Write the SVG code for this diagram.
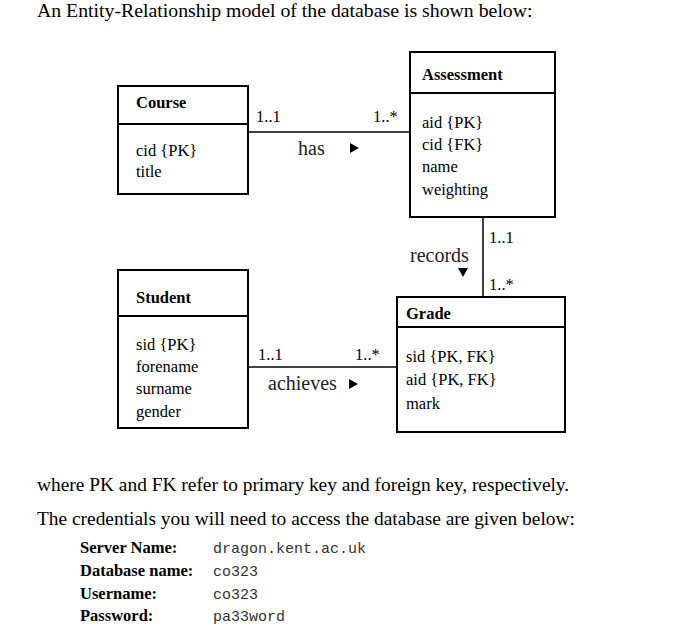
<svg xmlns="http://www.w3.org/2000/svg" width="700" height="627" viewBox="0 0 700 627">
<style>
.t{font-family:"Liberation Serif",serif;font-size:19.4px;fill:#000}
.a{font-family:"Liberation Serif",serif;font-size:16.5px;fill:#000}
.b{font-family:"Liberation Serif",serif;font-size:16.5px;font-weight:bold;fill:#000}
.m{font-family:"Liberation Mono",monospace;font-size:15px;fill:#333}
.l{font-family:"Liberation Serif",serif;font-size:20px;fill:#222}
.box{fill:#fff;stroke:#000;stroke-width:2}
</style>
<rect width="700" height="627" fill="#fff"/>
<text class="t" x="37" y="17" style="font-size:19.8px">An Entity-Relationship model of the database is shown below:</text>
<g id="connectors" stroke="#000" stroke-width="1.5">
<line x1="248" y1="132" x2="410" y2="132"/>
<line x1="483" y1="217" x2="483" y2="297"/>
<line x1="248" y1="367" x2="397" y2="367"/>
</g>
<g id="labels">
<text class="a" x="256" y="122">1..1</text><text class="a" x="373" y="122">1..*</text>
<text class="l" x="298" y="155">has</text><polygon points="350,143 359,148 350,153"/>
<text class="a" x="489" y="243">1..1</text><text class="l" x="410" y="262">records</text>
<polygon points="458,268 468,268 463,277"/><text class="a" x="489" y="290">1..*</text>
<text class="a" x="258" y="360">1..1</text><text class="a" x="355" y="360">1..*</text>
<text class="l" x="268" y="390">achieves</text><polygon points="349,379 358,384 349,389"/>
</g>
<g id="course">
<rect class="box" x="118" y="86" width="130" height="108"/><line x1="118" y1="124" x2="248" y2="124" stroke="#000" stroke-width="2"/>
<text class="b" x="136" y="108">Course</text><text class="a" x="136" y="156">cid {PK}</text><text class="a" x="136" y="177">title</text>
</g>
<g id="assessment">
<rect class="box" x="410" y="52" width="145" height="165"/><line x1="410" y1="93" x2="555" y2="93" stroke="#000" stroke-width="2"/>
<text class="b" x="422" y="80">Assessment</text>
<text class="a" x="422" y="128">aid {PK}</text><text class="a" x="422" y="150">cid {FK}</text><text class="a" x="422" y="172">name</text><text class="a" x="422" y="195">weighting</text>
</g>
<g id="student">
<rect class="box" x="118" y="270" width="130" height="158"/><line x1="118" y1="316" x2="248" y2="316" stroke="#000" stroke-width="2"/>
<text class="b" x="136" y="303">Student</text>
<text class="a" x="136" y="350">sid {PK}</text><text class="a" x="136" y="372">forename</text><text class="a" x="136" y="394">surname</text><text class="a" x="136" y="417">gender</text>
</g>
<g id="grade">
<rect class="box" x="397" y="297" width="168" height="135"/><line x1="397" y1="327" x2="565" y2="327" stroke="#000" stroke-width="2"/>
<text class="b" x="406" y="319">Grade</text>
<text class="a" x="406" y="362">sid {PK, FK}</text><text class="a" x="406" y="385">aid {PK, FK}</text><text class="a" x="406" y="409">mark</text>
</g>
<text class="t" x="37" y="491">where PK and FK refer to primary key and foreign key, respectively.</text>
<text class="t" x="37" y="525">The credentials you will need to access the database are given below:</text>
<text class="b" x="80" y="553">Server Name:</text><text class="m" x="213" y="553">dragon.kent.ac.uk</text>
<text class="b" x="80" y="576">Database name:</text><text class="m" x="213" y="576">co323</text>
<text class="b" x="80" y="599">Username:</text><text class="m" x="213" y="599">co323</text>
<text class="b" x="80" y="621">Password:</text><text class="m" x="213" y="621">pa33word</text>
</svg>
